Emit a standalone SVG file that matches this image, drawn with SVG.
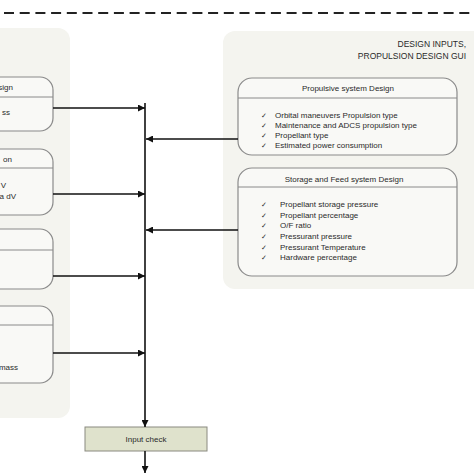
<svg xmlns="http://www.w3.org/2000/svg" width="474" height="474" viewBox="0 0 474 474">
<style>
.panel{fill:#f4f4ef;stroke:none}
.box{fill:#f9f9f6;stroke:#8a8a8a;stroke-width:1.2}
.div{stroke:#8a8a8a;stroke-width:1}
.t{font-family:"Liberation Sans",Arial,sans-serif;font-size:8px;fill:#2a2a2a}
.h{font-family:"Liberation Sans",Arial,sans-serif;font-size:8.5px;fill:#2a2a2a}
.k{font-family:"DejaVu Sans",sans-serif;font-size:7px;fill:#2a2a2a}
.c{stroke:#111;stroke-width:1.6;fill:none}
</style>
<defs>
<marker id="ah" viewBox="0 0 10 10" refX="10" refY="5" markerWidth="8" markerHeight="7" markerUnits="userSpaceOnUse" orient="auto">
<path d="M0,0 L10,5 L0,10 z" fill="#111"/>
</marker>
</defs>
<rect width="474" height="474" fill="#fff"/>
<line x1="4" y1="13" x2="474" y2="13" stroke="#222" stroke-width="2" stroke-dasharray="10,5.7"/>

<g id="left-panel">
<rect class="panel" x="-20" y="28" width="90" height="390" rx="12"/>
</g>
<g id="right-panel">
<rect class="panel" x="223" y="31" width="270" height="258" rx="12"/>
<text class="h" x="466" y="47" text-anchor="end">DESIGN INPUTS,</text>
<text class="h" x="466" y="59" text-anchor="end">PROPULSION DESIGN GUI</text>
</g>

<g id="left-box-1">
<rect class="box" x="-40" y="77" width="93" height="54" rx="13"/>
<line class="div" x1="-40" y1="97" x2="53" y2="97"/>
<text class="t" x="13" y="90" text-anchor="end">sign</text>
<text class="t" x="10" y="115" text-anchor="end">ss</text>
</g>
<g id="left-box-2">
<rect class="box" x="-40" y="149" width="93" height="66" rx="13"/>
<line class="div" x1="-40" y1="168" x2="53" y2="168"/>
<text class="t" x="12" y="162" text-anchor="end">on</text>
<text class="t" x="6" y="188" text-anchor="end">V</text>
<text class="t" x="16" y="199" text-anchor="end">a dV</text>
</g>
<g id="left-box-3">
<rect class="box" x="-40" y="229" width="93" height="60" rx="13"/>
<line class="div" x1="-40" y1="250" x2="53" y2="250"/>
</g>
<g id="left-box-4">
<rect class="box" x="-40" y="306" width="93" height="77" rx="13"/>
<line class="div" x1="-40" y1="325" x2="53" y2="325"/>
<text class="t" x="18" y="370" text-anchor="end">mass</text>
</g>

<g id="propulsive-system-design">
<rect class="box" x="238" y="78" width="219" height="77" rx="14"/>
<line class="div" x1="238" y1="98" x2="457" y2="98"/>
<text class="t" x="348" y="91" text-anchor="middle">Propulsive system Design</text>
<g class="k">
<text x="261" y="118">✓</text><text x="261" y="128">✓</text><text x="261" y="138">✓</text><text x="261" y="148">✓</text>
</g>
<g class="t">
<text x="275" y="118">Orbital maneuvers Propulsion type</text>
<text x="275" y="128">Maintenance and ADCS propulsion type</text>
<text x="275" y="138">Propellant type</text>
<text x="275" y="148">Estimated power consumption</text>
</g>
</g>

<g id="storage-feed-design">
<rect class="box" x="238" y="168" width="219" height="108" rx="14"/>
<line class="div" x1="238" y1="187" x2="457" y2="187"/>
<text class="t" x="344" y="182" text-anchor="middle">Storage and Feed system Design</text>
<g class="k">
<text x="261" y="207">✓</text><text x="261" y="218">✓</text><text x="261" y="228">✓</text><text x="261" y="239">✓</text><text x="261" y="250">✓</text><text x="261" y="260">✓</text>
</g>
<g class="t">
<text x="280" y="207">Propellant storage pressure</text>
<text x="280" y="218">Propellant percentage</text>
<text x="280" y="228">O/F ratio</text>
<text x="280" y="239">Pressurant pressure</text>
<text x="280" y="250">Pressurant Temperature</text>
<text x="280" y="260">Hardware percentage</text>
</g>
</g>

<g id="input-check">
<rect x="85" y="427" width="122" height="24" fill="#dfe2cc" stroke="#8a8a80" stroke-width="1"/>
<text class="t" x="146" y="442" text-anchor="middle">Input check</text>
</g>

<g id="connectors">
<line class="c" x1="53" y1="108" x2="145" y2="108" marker-end="url(#ah)"/>
<line class="c" x1="53" y1="194" x2="145" y2="194" marker-end="url(#ah)"/>
<line class="c" x1="53" y1="276" x2="145" y2="276" marker-end="url(#ah)"/>
<line class="c" x1="53" y1="353" x2="145" y2="353" marker-end="url(#ah)"/>
<line class="c" x1="238" y1="139" x2="146" y2="139" marker-end="url(#ah)"/>
<line class="c" x1="238" y1="230" x2="146" y2="230" marker-end="url(#ah)"/>
<line class="c" x1="145" y1="103" x2="145" y2="427" marker-end="url(#ah)"/>
<line class="c" x1="145" y1="451" x2="145" y2="473" marker-end="url(#ah)"/>
</g>
</svg>
